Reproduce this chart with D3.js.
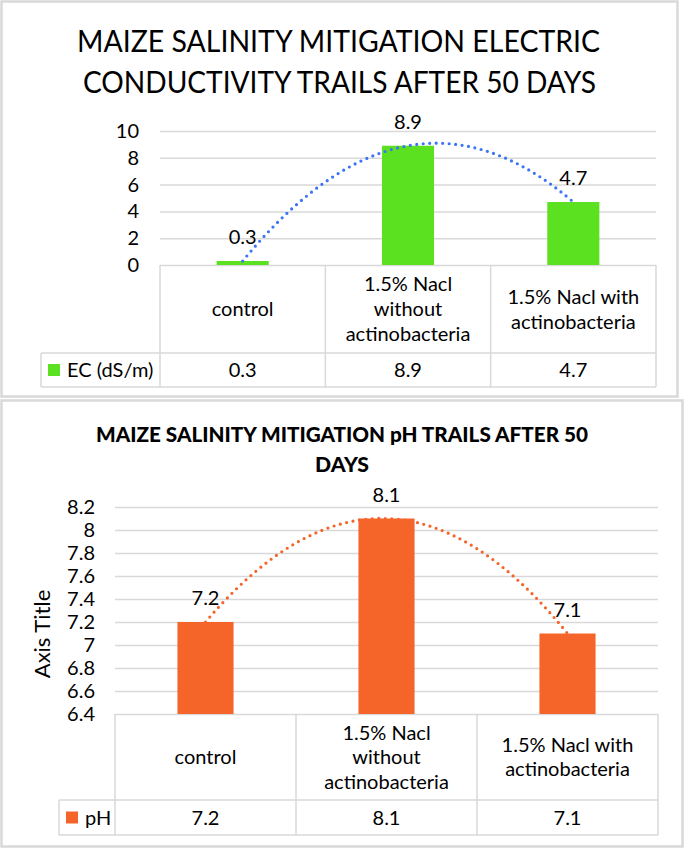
<!DOCTYPE html>
<html>
<head>
<meta charset="utf-8">
<script src="https://cdn.jsdelivr.net/npm/d3@7"></script>
<style>
  body { margin: 0; background: #fff; }
  text { font-family: Lato, "Open Sans", sans-serif; fill: #000; }
</style>
</head>
<body>
<script>
// data
const categories = ["control", "1.5% Nacl without actinobacteria", "1.5% Nacl with actinobacteria"];
const categoryLines = [["control"], ["1.5% Nacl", "without", "actinobacteria"], ["1.5% Nacl with", "actinobacteria"]];
const ecValues = [0.3, 8.9, 4.7];
const phValues = [7.2, 8.1, 7.1];
const ecTicks = [0, 2, 4, 6, 8, 10];
const phTicks = [6.4, 6.6, 6.8, 7, 7.2, 7.4, 7.6, 7.8, 8, 8.2];

const gridColor = "#d9d9d9";
const fs = 20;

let svg = d3.select("body").append("svg")
    .attr("width", 685)
    .attr("height", 848);

svg.append("rect").attr("width", 685).attr("height", 848).attr("fill", "#fff");

// panel borders
svg.append("rect")
    .attr("x", 1.5).attr("y", 1.5).attr("width", 676).attr("height", 395)
    .attr("fill", "none").attr("stroke", gridColor).attr("stroke-width", 2.5);
svg.append("rect")
    .attr("x", 1.5).attr("y", 400.5).attr("width", 681).attr("height", 446)
    .attr("fill", "none").attr("stroke", gridColor).attr("stroke-width", 2.5);

// titles
function titleLine(txt, x, y, size, weight, len) {
    let t = svg.append("text")
        .attr("x", x).attr("y", y)
        .attr("text-anchor", "middle")
        .attr("font-size", size)
        .attr("font-weight", weight)
        .text(txt);
    if (len) t.attr("textLength", len).attr("lengthAdjust", "spacingAndGlyphs");
}
titleLine("MAIZE SALINITY MITIGATION ELECTRIC", 338.5, 52, 30, 400, 523);
titleLine("CONDUCTIVITY TRAILS AFTER 50 DAYS", 339.5, 93, 30, 400, 513);
titleLine("MAIZE SALINITY MITIGATION pH TRAILS AFTER 50", 342, 442, 21, 900, 492);
titleLine("DAYS", 342, 472, 21, 900, 54);

function drawChart(cfg) {
    let g = svg.append("g");

    let x = d3.scaleBand()
        .domain(categories)
        .range([cfg.left, cfg.right]);
    let y = d3.scaleLinear()
        .domain(cfg.domain)
        .range([cfg.bottom, cfg.top]);
    let bw = x.bandwidth();

    // gridlines
    g.append("g")
        .attr("transform", "translate(" + cfg.left + ",0)")
        .call(d3.axisLeft(y).tickValues(cfg.ticks).tickSize(-(cfg.right - cfg.left)).tickFormat(""))
        .call(a => a.select(".domain").remove())
        .selectAll("line")
        .attr("stroke", gridColor)
        .attr("stroke-width", 1.5);

    // tick labels
    let yAxis = g.append("g")
        .attr("transform", "translate(" + cfg.labelX + ",0)")
        .call(d3.axisLeft(y).tickValues(cfg.ticks).tickSize(0).tickPadding(0).tickFormat(d3.format("~g")));
    yAxis.select(".domain").remove();
    yAxis.attr("font-family", null).attr("font-size", fs);
    yAxis.selectAll("text").attr("fill", "#000");

    // bars
    let barW = bw * cfg.barRatio;
    g.selectAll(".bar")
        .data(cfg.values)
        .enter()
        .append("rect")
        .attr("class", "bar")
        .attr("x", (d, i) => x(categories[i]) + (bw - barW) / 2)
        .attr("y", d => y(d))
        .attr("width", barW)
        .attr("height", d => cfg.bottom - y(d))
        .attr("fill", cfg.color);

    // polynomial (order 2) trendline through the three points
    let v = cfg.values;
    let poly = t => v[0] * (t - 1) * (t - 2) / 2 - v[1] * t * (t - 2) + v[2] * t * (t - 1) / 2;
    let pts = d3.range(0, 2.001, 0.02).map(t => [x(categories[0]) + bw / 2 + t * bw, y(poly(t))]);
    g.append("path")
        .datum(pts)
        .attr("d", d3.line().curve(d3.curveBasis))
        .attr("fill", "none")
        .attr("stroke", cfg.trendColor)
        .attr("stroke-width", 3.2)
        .attr("stroke-linecap", "round")
        .attr("stroke-dasharray", "0 6.5");

    // data labels
    g.selectAll(".dlabel")
        .data(cfg.values)
        .enter()
        .append("text")
        .attr("class", "dlabel")
        .attr("x", (d, i) => x(categories[i]) + bw / 2)
        .attr("y", d => y(d) - 17)
        .attr("text-anchor", "middle")
        .attr("font-size", fs)
        .text(d => d);

    // data table
    let rowTop = cfg.rowTop, tableBottom = cfg.tableBottom;
    let lines = g.append("g").attr("stroke", gridColor).attr("stroke-width", 1.5);
    lines.append("line").attr("x1", cfg.legendLeft).attr("x2", cfg.right).attr("y1", rowTop).attr("y2", rowTop);
    lines.append("line").attr("x1", cfg.legendLeft).attr("x2", cfg.right).attr("y1", tableBottom).attr("y2", tableBottom);
    lines.append("line").attr("x1", cfg.legendLeft).attr("x2", cfg.legendLeft).attr("y1", rowTop).attr("y2", tableBottom);
    let edges = categories.map(c => x(c)).concat([cfg.right]);
    lines.selectAll(".vline")
        .data(edges)
        .enter()
        .append("line")
        .attr("x1", d => d).attr("x2", d => d)
        .attr("y1", cfg.bottom).attr("y2", tableBottom);

    let mid = (cfg.bottom + rowTop) / 2;
    categoryLines.forEach((ls, i) => {
        ls.forEach((l, j) => {
            g.append("text")
                .attr("x", x(categories[i]) + bw / 2)
                .attr("y", mid + (j - (ls.length - 1) / 2) * cfg.lineGap)
                .attr("dy", "0.35em")
                .attr("text-anchor", "middle")
                .attr("font-size", fs)
                .text(l);
        });
    });

    let valMid = (rowTop + tableBottom) / 2;
    g.selectAll(".tval")
        .data(cfg.values)
        .enter()
        .append("text")
        .attr("class", "tval")
        .attr("x", (d, i) => x(categories[i]) + bw / 2)
        .attr("y", valMid)
        .attr("dy", "0.35em")
        .attr("text-anchor", "middle")
        .attr("font-size", fs)
        .text(d => d);

    // legend key
    g.append("rect")
        .attr("x", cfg.legendLeft + 7).attr("y", valMid - 6)
        .attr("width", 12).attr("height", 12)
        .attr("fill", cfg.color);
    g.append("text")
        .attr("x", cfg.legendLeft + 26)
        .attr("y", valMid)
        .attr("dy", "0.35em")
        .attr("font-size", fs)
        .text(cfg.seriesName);
}

drawChart({
    values: ecValues, ticks: ecTicks, domain: [0, 10],
    left: 160, right: 656, top: 131, bottom: 265, labelX: 139,
    barRatio: 0.315, color: "#5ce121", trendColor: "#3b74f4",
    legendLeft: 41, rowTop: 353, tableBottom: 387, lineGap: 25,
    seriesName: "EC (dS/m)"
});

drawChart({
    values: phValues, ticks: phTicks, domain: [6.4, 8.2],
    left: 115, right: 658, top: 507, bottom: 714, labelX: 95,
    barRatio: 0.31, color: "#f5652a", trendColor: "#f5652a",
    legendLeft: 59, rowTop: 800, tableBottom: 835, lineGap: 24.5,
    seriesName: "pH"
});

// axis title for the pH chart
svg.append("text")
    .attr("transform", "translate(42,634) rotate(-90)")
    .attr("text-anchor", "middle")
    .attr("dy", "0.35em")
    .attr("font-size", 22)
    .text("Axis Title");
</script>
</body>
</html>
